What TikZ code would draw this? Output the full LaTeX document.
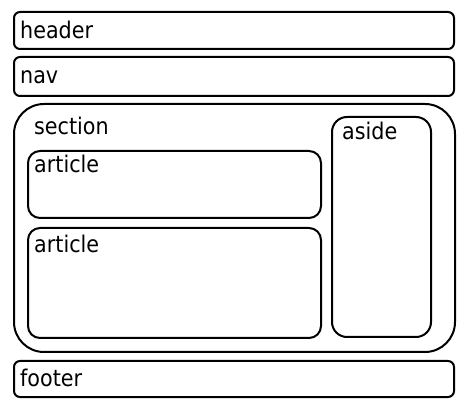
\documentclass[tikz,border=0pt]{standalone}
\usepackage{fontspec}
\setmainfont{DejaVu Sans Condensed}
\usetikzlibrary{positioning}
\definecolor{ink}{RGB}{0,0,0}
\tikzset{
  region/.style={draw=ink,line width=2pt,rounded corners=#1,inner sep=0pt,outer sep=0pt,
    anchor=north west},
  region/.default=6pt,
  tag/.style={font=\fontsize{23}{26}\selectfont,text=ink,inner sep=0pt,anchor=base west},
}

\begin{document}
\begin{tikzpicture}[x=1pt,y=-1pt]
  \useasboundingbox (0,0) rectangle (469,406);
  % page blocks
  \node[region,minimum width=440pt,minimum height=37pt] (header) at (14,12) {};
  \node[region,minimum width=440pt,minimum height=39pt] (nav) at (14,57) {};
  \node[region=30pt,minimum width=441pt,minimum height=248pt] (section) at (14,104) {};
  \node[region=15pt,minimum width=99pt,minimum height=220pt] (aside) at (332,117) {};
  \node[region=12pt,minimum width=293pt,minimum height=67pt] (article1) at (28,151) {};
  \node[region=12pt,minimum width=293pt,minimum height=110pt] (article2) at (28,228) {};
  \node[region,minimum width=440pt,minimum height=36pt] (footer) at (14,361) {};
  % labels
  \foreach \n/\t/\dx/\dy in {header/header/6/27,nav/nav/6/27,section/section/20/31,
    aside/aside/10/23,article1/article/6/22,article2/article/6/25,footer/footer/6/25}
    \node[tag] (\n-t) at ([xshift=\dx pt,yshift=-\dy pt]\n.north west) {\t};
\end{tikzpicture}
\end{document}
